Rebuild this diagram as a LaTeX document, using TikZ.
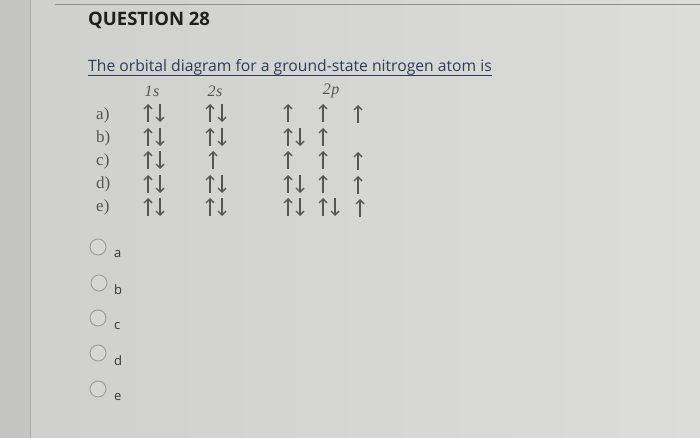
\documentclass[tikz,border=0pt]{standalone}
\usepackage{fontspec}
\setmainfont{Liberation Serif}
\newfontfamily\osans{Open Sans}
\usetikzlibrary{arrows.meta}
\definecolor{pageL}{HTML}{CFCFCD}
\definecolor{pageR}{HTML}{DCDCDA}
\definecolor{stripc}{HTML}{C4C4C2}
\definecolor{edgec}{HTML}{A9A9A7}
\definecolor{promptc}{HTML}{2F3B58}
\definecolor{orbc}{HTML}{555555}
\definecolor{radioc}{HTML}{9E9E9E}
\tikzset{
  orb/.style={draw=orbc, line width=1.5pt, -{Straight Barb[length=4pt,width=8pt,line width=1.4pt]}},
  hdr/.style={text=orbc, font=\itshape\fontsize{16}{18}\selectfont, inner sep=0pt},
  rowlab/.style={text=orbc, font=\fontsize{17}{19}\selectfont, inner sep=0pt, anchor=west},
  radio/.style={circle, draw=radioc, line width=1pt, fill=white!15!pageL, minimum size=16pt, inner sep=0pt},
  optlab/.style={text=black!80, font=\osans\fontsize{13}{16}\selectfont, inner sep=0pt, anchor=west},
}
\newcommand{\upar}[2]{\draw[orb] (#1,#2+9) -- (#1,#2-9);}
\newcommand{\dnar}[2]{\draw[orb] (#1,#2-9) -- (#1,#2+9);}
\newcommand{\pairar}[2]{\upar{#1}{#2}\dnar{#1+12}{#2}}
\begin{document}
\begin{tikzpicture}[x=1pt,y=-1pt]
\useasboundingbox (0,0) rectangle (700,438);
\shade[left color=pageL, right color=pageR] (0,0) rectangle (700,438);
\fill[stripc] (0,0) rectangle (30,438);
\draw[edgec, line width=0.8pt] (30,0) -- (30,438);
\draw[edgec!85!black, line width=1pt] (55,5) -- (700,5);

\node[anchor=west, inner sep=0pt, text=black!88, font=\osans\bfseries\fontsize{18.5}{21}\selectfont] (title) at (88,20) {QUESTION 28};
\node[anchor=base west, inner sep=0pt, text=promptc, font=\osans\fontsize{15.7}{18}\selectfont] (prompt) at (88,72) {The orbital diagram for a ground-state nitrogen atom is};
\draw[promptc, line width=0.9pt] ([yshift=-3pt]prompt.base west) -- ([yshift=-3pt]prompt.base east);

\node[hdr] (h1) at (152,91) {1\kern0.5pt s};
\node[hdr] (h2) at (215,91) {2\kern0.5pt s};
\node[hdr] (h3) at (331,91) {2\kern0.5pt p};

\node[rowlab] (la) at (96,115) {a)};
\node[rowlab] (lb) at (96,138) {b)};
\node[rowlab] (lc) at (96,161) {c)};
\node[rowlab] (ld) at (96,184) {d)};
\node[rowlab] (le) at (96,207) {e)};

% row a
\pairar{148}{113} \pairar{210}{113} \upar{288}{113} \upar{323}{113} \upar{358}{114}
% row b
\pairar{148}{137} \pairar{210}{137} \pairar{288}{137} \upar{323}{137}
% row c
\pairar{148}{160} \upar{213}{160} \upar{288}{160} \upar{323}{160} \upar{358}{161}
% row d
\pairar{148}{184} \pairar{210}{184} \pairar{288}{184} \upar{323}{184} \upar{358}{185}
% row e
\pairar{148}{207} \pairar{210}{207} \pairar{288}{207} \pairar{323}{207} \upar{360}{208}

\node[radio] (ra) at (98,247) {};
\node[radio] (rb) at (99,283) {};
\node[radio] (rc) at (98,318) {};
\node[radio] (rd) at (98,353) {};
\node[radio] (re) at (98,389) {};
\node[optlab] (oa) at (114,254) {a};
\node[optlab] (ob) at (114,290) {b};
\node[optlab] (oc) at (114,326) {c};
\node[optlab] (od) at (114,361) {d};
\node[optlab] (oe) at (114,397) {e};
\end{tikzpicture}
\end{document}
